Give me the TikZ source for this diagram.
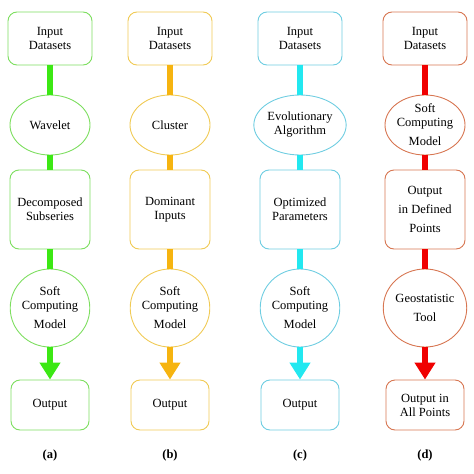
\documentclass[tikz,border=0pt]{standalone}
\usepackage{fontspec}
\setmainfont{Liberation Serif}
\usetikzlibrary{shapes.geometric,arrows.meta}

\definecolor{gline}{RGB}{60,232,20}
\definecolor{gedge}{RGB}{125,222,95}
\definecolor{oline}{RGB}{246,180,16}
\definecolor{oedge}{RGB}{240,202,85}
\definecolor{cline}{RGB}{34,232,240}
\definecolor{cedge}{RGB}{110,205,225}
\definecolor{rline}{RGB}{240,0,0}
\definecolor{redge}{RGB}{215,118,82}

\tikzset{
  stepbox/.style={rectangle,rounded corners=9pt,draw,line width=0.9pt,
                  align=center,inner sep=0pt},
  inbox/.style={stepbox,minimum width=84pt,minimum height=53pt},
  midbox/.style={stepbox,minimum width=80pt,minimum height=79pt},
  outbox/.style={stepbox,minimum width=78pt,minimum height=50pt},
  oval/.style={ellipse,draw,line width=0.9pt,align=center,inner sep=0pt,
               minimum width=80pt,minimum height=60pt},
  round/.style={ellipse,draw,line width=0.9pt,align=center,inner sep=0pt,
                minimum width=79pt,minimum height=78pt},
  link/.style={line width=6pt},
  flow/.style={line width=6pt,-{Triangle[width=20pt,length=17pt]}},
  tag/.style={font=\fontsize{12.5}{14}\selectfont\bfseries}
}

\begin{document}
\begin{tikzpicture}[x=1pt,y=-1pt,every node/.style={font=\fontsize{12.5}{14}\selectfont}]
    \useasboundingbox (0,0) rectangle (474,474);

    % (a)
    \node[inbox,draw=gedge]  (ina)  at (50,38.5)  {Input\\Datasets};
    \node[oval,draw=gedge]   (wava) at (50,125)   {Wavelet};
    \node[midbox,draw=gedge] (deca) at (50,209.5) {Decomposed\\Subseries};
    \node[round,draw=gedge]  (soca) at (50,308)   {Soft\\Computing\\[5pt]Model};
    \node[outbox,draw=gedge] (outa) at (50,405)   {Output};
    \node[tag] (laba) at (50,455) {(a)};

    \draw[link,gline] (ina) -- (wava);
    \draw[link,gline] (wava) -- (deca);
    \draw[link,gline] (deca) -- (soca);
    \draw[flow,gline] (soca) -- (outa);

    % (b)
    \node[inbox,draw=oedge]  (inb)  at (170,38.5)  {Input\\Datasets};
    \node[oval,draw=oedge]   (club) at (170,125)   {Cluster};
    \node[midbox,draw=oedge] (domb) at (170,209.5) {Dominant\\Inputs};
    \node[round,draw=oedge]  (socb) at (170,308)   {Soft\\Computing\\[5pt]Model};
    \node[outbox,draw=oedge] (outb) at (170,405)   {Output};
    \node[tag] (labb) at (170,455) {(b)};

    \draw[link,oline] (inb) -- (club);
    \draw[link,oline] (club) -- (domb);
    \draw[link,oline] (domb) -- (socb);
    \draw[flow,oline] (socb) -- (outb);

    % (c)
    \node[inbox,draw=cedge]  (inc)  at (300,38.5)  {Input\\Datasets};
    \node[oval,draw=cedge]   (evoc) at (300,125)   {Evolutionary\\Algorithm};
    \node[midbox,draw=cedge] (optc) at (300,209.5) {Optimized\\Parameters};
    \node[round,draw=cedge]  (socc) at (300,308)   {Soft\\Computing\\[5pt]Model};
    \node[outbox,draw=cedge] (outc) at (300,405)   {Output};
    \node[tag] (labc) at (300,455) {(c)};

    \draw[link,cline] (inc) -- (evoc);
    \draw[link,cline] (evoc) -- (optc);
    \draw[link,cline] (optc) -- (socc);
    \draw[flow,cline] (socc) -- (outc);

    % (d)
    \node[inbox,draw=redge]  (ind)  at (425,38.5)  {Input\\Datasets};
    \node[oval,draw=redge]   (socd) at (425,125)   {Soft\\Computing\\[5pt]Model};
    \node[midbox,draw=redge] (defd) at (425,209.5) {Output\\[5pt]in Defined\\[5pt]Points};
    \node[round,draw=redge]  (geod) at (425,308)   {Geostatistic\\[5pt]Tool};
    \node[outbox,draw=redge] (outd) at (425,405)   {Output in\\All Points};
    \node[tag] (labd) at (425,455) {(d)};

    \draw[link,rline] (ind) -- (socd);
    \draw[link,rline] (socd) -- (defd);
    \draw[link,rline] (defd) -- (geod);
    \draw[flow,rline] (geod) -- (outd);
\end{tikzpicture}
\end{document}
